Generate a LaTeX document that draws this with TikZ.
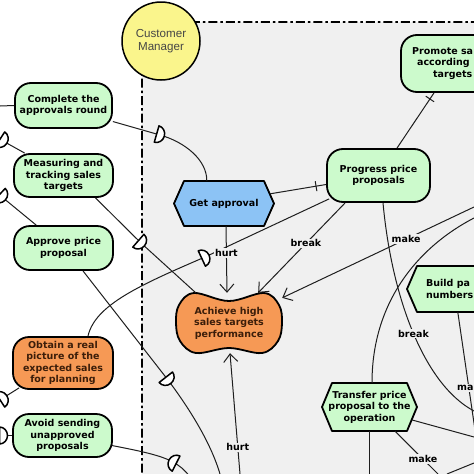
\documentclass[tikz,border=0pt]{standalone}
\usepackage{fontspec}
\usetikzlibrary{arrows.meta,calc}
\newfontfamily\dvs{DejaVu Sans}
\newfontfamily\libsans{Liberation Sans}
\definecolor{goalg}{RGB}{204,250,204}
\definecolor{orng}{RGB}{246,153,85}
\definecolor{taskb}{RGB}{140,195,245}
\definecolor{actory}{RGB}{250,245,140}
\definecolor{bggray}{RGB}{240,240,240}
\definecolor{linec}{RGB}{30,30,30}
\definecolor{brn}{RGB}{60,30,10}
\definecolor{actortxt}{RGB}{70,70,70}
\newcommand{\myhex}[6]{\filldraw[fill=#6, nodeborder] ({#1-#3/2},#2) -- ({#1-#3/2+#5},{#2-#4/2}) -- ({#1+#3/2-#5},{#2-#4/2}) -- ({#1+#3/2},#2) -- ({#1+#3/2-#5},{#2+#4/2}) -- ({#1-#3/2+#5},{#2+#4/2}) -- cycle;}
\begin{document}
\begin{tikzpicture}[x=1pt,y=-1pt,
  nodeborder/.style={draw=black, line width=1.8pt, line join=round},
  txt/.style={font=\dvs\bfseries\fontsize{9.5}{11.4}\selectfont, align=center, inner sep=0pt},
  goal/.style={txt, rectangle, rounded corners=16pt, nodeborder, fill=goalg},
  goalo/.style={goal, fill=orng, text=brn},
  txtbox/.style={txt, rectangle},
  link/.style={draw=linec, line width=1pt},
  arr/.style={link, -{Straight Barb[length=8pt,width=14pt]}},
  lbl/.style={txt, fill=bggray, inner sep=1pt},
  barmk/.style={draw=linec, line width=1pt, minimum width=0pt, minimum height=10pt, inner sep=0pt},
  bdry/.style={draw=black, line width=1.8pt, dash pattern=on 9pt off 3pt on 2.5pt off 3pt},
  dmark/.pic={\draw[fill=white, draw=black, line width=1.5pt, line join=round] (-3.5,-8.5) -- (-3.5,8.5) arc[start angle=90, end angle=-90, x radius=8, y radius=8.5] -- cycle;},
]
\useasboundingbox (0,0) rectangle (474,474);
\clip (0,0) rectangle (474,474);
\fill[white] (0,0) rectangle (474,474);
% actor boundary
\fill[bggray] (142,490) [rounded corners=22pt] -- (142,22) -- (490,22) [sharp corners] -- (490,490) -- cycle;
\draw[bdry] (142,490) [rounded corners=22pt] -- (142,22) -- (490,22);
\node[circle, draw=black, line width=1.5pt, fill=actory, minimum size=78pt, inner sep=0pt, font=\libsans\fontsize{11.6}{12.8}\selectfont, align=center, text=actortxt] (cm) at (161,41) {Customer\\Manager};

% left goals
\node[goal, minimum width=97pt, minimum height=45pt] (comp) at (63.5,105.5) {Complete the\\approvals round};
\node[goal, minimum width=99pt, minimum height=43pt] (meas) at (63.5,175.5) {Measuring and\\tracking sales\\targets};
\node[goal, minimum width=99pt, minimum height=44pt] (appr) at (63.5,248) {Approve price\\proposal};
\node[goalo, minimum width=100pt, minimum height=52pt] (obt) at (63,363) {Obtain a real\\picture of the\\expected sales\\for planning};
\node[goal, minimum width=99pt, minimum height=43pt] (avoid) at (62.5,435.5) {Avoid sending\\unapproved\\proposals};

% inside boundary
\myhex{224}{203.5}{100}{45}{10}{taskb}
\node[txtbox, minimum width=100pt, minimum height=45pt] (getapp) at (224,203.5) {Get approval};
\node[goal, minimum width=103pt, minimum height=53pt] (prog) at (378.5,175.5) {Progress price\\proposals};
\node[goal, minimum width=114pt, minimum height=57pt] (prom) at (458,63.5) {};
\node[txt, align=left, anchor=west] (promtxt) at (412,63.5) {Promote sa\\\hspace*{5pt}according\\\hspace*{21pt}targets};
\draw[nodeborder, fill=orng] plot[smooth cycle, tension=0.6] coordinates {(194,293) (229,301) (264,293) (279,305) (282,323) (278,341) (262,353) (229,348) (196,353) (180,341) (176,323) (179,305)};
\node[txtbox, text=brn, minimum width=106pt, minimum height=60pt] (ach) at (229,323) {Achieve high\\sales targets\\performance};
\myhex{470}{289}{126}{46}{10}{goalg}
\node[txtbox, minimum width=126pt, minimum height=46pt] (build) at (470,289) {};
\node[txt, align=left, anchor=west] (buildtxt) at (426,289) {Build pa\\numbers};
\myhex{369.5}{407}{95}{48}{10}{goalg}
\node[txtbox, minimum width=95pt, minimum height=48pt] (trans) at (369.5,407) {Transfer price\\proposal to the\\operation};

% coordinates
\coordinate (eL1) at (0,106);
\coordinate (d1) at (160,135);
\coordinate (d2) at (3,141);
\coordinate (d3) at (2,197);
\coordinate (d4) at (141,243);
\coordinate (d5) at (205,257);
\coordinate (d6) at (168,380);
\coordinate (d7) at (173,462);
\coordinate (d8) at (3,435.5);
\coordinate (d9) at (3,398);
\coordinate (eR1) at (474,207);
\coordinate (eR2) at (474,218);
\coordinate (eR3) at (474,411);
\coordinate (eR4) at (475,430);
\coordinate (eR5) at (474,437);
\coordinate (eR6) at (474,463);
\coordinate (eB1) at (438,474);
\coordinate (eB2) at (447,474);
\coordinate (eB3) at (369.5,474);
\coordinate (eB4) at (240,474);
\coordinate (eB5) at (220,474);
\coordinate (eB6) at (190,477);

% links
\draw[link] (eL1) -- (comp.west);
\draw[link] (comp.-18) -- (d1) .. controls (185,142) and (207,160) .. ($(getapp.north west)+(33,0)$);
\draw[link] (d2) -- (meas.150);
\draw[link] (d3) -- (appr.140);
\draw[link] (meas.-35) -- (d4) -- (ach);
\draw[link] ($(obt.north)+(25,0)$) .. controls (95,305) and (140,285) .. (d5) -- ($(prog.south west)+(3,-4)$);
\draw[link] ($(getapp.north east)+(-4,13)$) -- node[pos=0.82, sloped, barmk]{} ($(prog.west)+(0,9)$);
\draw[link] ($(prog.north)+(18.5,0)$) -- node[pos=0.89, sloped, barmk]{} ($(prom.south)+(-24,0)$);
\draw[arr] ($(prog.south west)+(19,0)$) -- node[pos=0.45, lbl]{break} (ach);
\draw[arr] (eR1) -- node[pos=0.354, lbl]{make} (ach);
\draw[link] (eR2) .. controls (420,246) and (372,300) .. ($(trans.north)+(2.5,0)$);
\draw[link] ($(prog.south)+(4.5,0)$) .. controls (392,300) and (425,385) .. node[pos=0.5, lbl]{break} (eR3);
\draw[link] ($(build.south west)+(51,0)$) -- (eR4);
\node[txt, anchor=west, fill=bggray, inner sep=1pt] (malbl) at (456,388) {ma};
\draw[link] ($(trans.east)+(-5,13)$) -- (eR5);
\draw[link] ($(trans.south)+(25.5,0)$) -- node[pos=0.65, lbl]{make} (eB1);
\draw[link] (eB2) -- (eR6);
\draw[link] (trans.south) -- (eB3);
\draw[arr] (eB4) -- node[pos=0.22, lbl]{hurt} ($(ach.south)+(1,0)$);
\draw[link] ($(appr.south)+(19.5,0)$) -- (d6) .. controls (186,404) and (210,440) .. (eB5);
\draw[link] ($(avoid.east)+(-1,10)$) .. controls (140,451) and (160,455) .. (d7) .. controls (180,466) and (185,470) .. (eB6);
\draw[link] (d9) -- ($(obt.south west)+(7,-2)$);
\draw[link] (d8) -- (avoid.west);
\draw[arr] ($(getapp.south)+(2,0)$) -- node[pos=0.4, lbl]{hurt} ($(ach.north)+(-2,0)$);

% dependency markers
\pic[rotate=-16] at (d1) {dmark};
\pic[rotate=-33] at (d2) {dmark};
\pic[rotate=-43] at (d3) {dmark};
\pic[rotate=-41] at (d4) {dmark};
\pic[rotate=25] at (d5) {dmark};
\pic[rotate=-52] at (d6) {dmark};
\pic[rotate=153] at (d7) {dmark};
\pic[rotate=0] at (d8) {dmark};
\pic[rotate=33] at (d9) {dmark};
\end{tikzpicture}
\end{document}
